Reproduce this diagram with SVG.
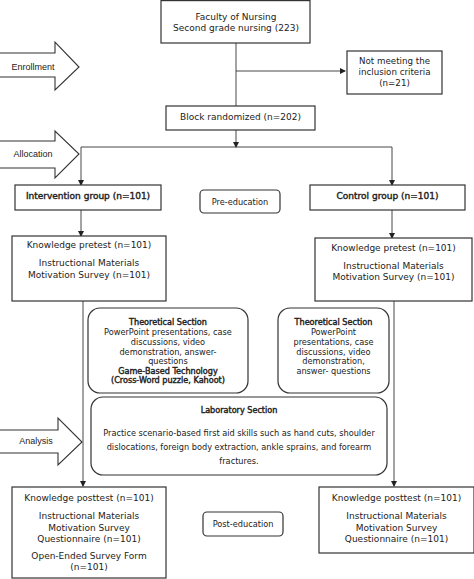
<svg xmlns="http://www.w3.org/2000/svg" width="474" height="579" viewBox="0 0 474 579">
<defs>
<marker id="ah" markerWidth="6" markerHeight="6" refX="5" refY="3" orient="auto" markerUnits="userSpaceOnUse">
<path d="M0,0 L6,3 L0,6 Z" fill="#222"/>
</marker>
<style>
.box{fill:#fff;stroke:#333;stroke-width:1.2}
.t{font-family:"DejaVu Sans",Verdana,sans-serif;font-size:9px;fill:#222;text-anchor:middle}
.s{font-size:8.2px}
.b{font-size:9px;stroke:#222;stroke-width:0.4}
.h{font-size:8.1px;stroke:#222;stroke-width:0.4}
.ar{fill:#fff;stroke:#333;stroke-width:1.1}
.al{font-family:"Liberation Sans",Arial,sans-serif;font-size:9px;fill:#222;text-anchor:middle}
.c{fill:none;stroke:#333;stroke-width:0.9}
</style>
</defs>
<g id="connectors">
<path class="c" d="M236,43 V106"/>
<path class="c" d="M236,71 H345" marker-end="url(#ah)"/>
<path class="c" d="M236,130 V147" marker-end="url(#ah)"/>
<path class="c" d="M81,147 H392"/>
<path class="c" d="M81,147 V185" marker-end="url(#ah)"/>
<path class="c" d="M392,147 V185" marker-end="url(#ah)"/>
<path class="c" d="M81,210 V236" marker-end="url(#ah)"/>
<path class="c" d="M392,210 V238" marker-end="url(#ah)"/>
<path class="c" d="M83,301 V486" marker-end="url(#ah)"/>
<path class="c" d="M394,301 V486" marker-end="url(#ah)"/>
</g>
<g id="enrollment">
<polygon class="ar" points="-1,53 55,53 55,42 79,67 55,90 55,77 -1,77"/>
<text class="al" x="33" y="70">Enrollment</text>
</g>
<g id="allocation">
<polygon class="ar" points="-1,141 55,141 55,131 79,154 55,178 55,168 -1,168"/>
<text class="al" x="33" y="157">Allocation</text>
</g>
<g id="analysis">
<polygon class="ar" points="-1,430 58,430 58,418 82,442 58,465 58,453 -1,453"/>
<text class="al" x="36" y="444">Analysis</text>
</g>
<g id="faculty">
<rect class="box" x="161" y="0.6" width="149" height="42.4"/>
<text class="t" x="236" y="20">Faculty of Nursing</text>
<text class="t" x="236" y="31">Second grade nursing (223)</text>
</g>
<g id="excluded">
<rect class="box" x="347" y="51" width="95" height="43"/>
<text class="t" x="394.5" y="64" style="font-size:8.7px">Not meeting the</text>
<text class="t" x="394.5" y="75" style="font-size:8.7px">inclusion criteria</text>
<text class="t" x="394.5" y="86" style="font-size:8.7px">(n=21)</text>
</g>
<g id="randomized">
<rect class="box" x="166" y="106" width="149" height="24"/>
<text class="t" x="240.5" y="120">Block randomized (n=202)</text>
</g>
<g id="intervention">
<rect class="box" x="15" y="185" width="146" height="25"/>
<text class="t b" x="88" y="199">Intervention group (n=101)</text>
</g>
<g id="pre-education">
<rect class="box" x="200" y="190" width="80" height="23" rx="4"/>
<text class="t s" x="240" y="205">Pre-education</text>
</g>
<g id="control">
<rect class="box" x="310" y="185" width="155" height="25"/>
<text class="t b" x="387.5" y="199">Control group (n=101)</text>
</g>
<g id="pretest-left">
<rect class="box" x="12" y="236" width="154" height="65"/>
<text class="t" x="89" y="248">Knowledge pretest (n=101)</text>
<text class="t" x="89" y="266">Instructional Materials</text>
<text class="t" x="89" y="278">Motivation Survey (n=101)</text>
</g>
<g id="pretest-right">
<rect class="box" x="315" y="238" width="157" height="63"/>
<text class="t" x="393.5" y="251">Knowledge pretest (n=101)</text>
<text class="t" x="393.5" y="269">Instructional Materials</text>
<text class="t" x="393.5" y="280">Motivation Survey (n=101)</text>
</g>
<g id="theory-left">
<rect class="box" x="88" y="308" width="160" height="85" rx="12"/>
<text class="t h" x="168" y="325">Theoretical Section</text>
<text class="t s" x="168" y="335">PowerPoint presentations, case</text>
<text class="t s" x="168" y="345">discussions, video</text>
<text class="t s" x="168" y="355">demonstration, answer-</text>
<text class="t s" x="168" y="364">questions</text>
<text class="t h" x="168" y="374">Game-Based Technology</text>
<text class="t h" x="168" y="383">(Cross-Word puzzle, Kahoot)</text>
</g>
<g id="theory-right">
<rect class="box" x="278" y="308" width="111" height="85" rx="12"/>
<text class="t h" x="333.5" y="325">Theoretical Section</text>
<text class="t s" x="333.5" y="335">PowerPoint</text>
<text class="t s" x="333.5" y="345">presentations, case</text>
<text class="t s" x="333.5" y="355">discussions, video</text>
<text class="t s" x="333.5" y="364">demonstration,</text>
<text class="t s" x="333.5" y="374">answer- questions</text>
</g>
<g id="laboratory">
<rect class="box" x="91" y="397" width="296" height="78" rx="12"/>
<text class="t h" x="239" y="413">Laboratory Section</text>
<text class="t s" x="239" y="436">Practice scenario-based first aid skills such as hand cuts, shoulder</text>
<text class="t s" x="239" y="450">dislocations, foreign body extraction, ankle sprains, and forearm</text>
<text class="t s" x="239" y="464">fractures.</text>
</g>
<g id="posttest-left">
<rect class="box" x="12" y="487" width="154" height="91"/>
<text class="t" x="89" y="501">Knowledge posttest (n=101)</text>
<text class="t" x="89" y="519">Instructional Materials</text>
<text class="t" x="89" y="531">Motivation Survey</text>
<text class="t" x="89" y="542">Questionnaire (n=101)</text>
<text class="t" x="89" y="559">Open-Ended Survey Form</text>
<text class="t" x="89" y="570">(n=101)</text>
</g>
<g id="post-education">
<rect class="box" x="203" y="512" width="80" height="24" rx="4"/>
<text class="t s" x="243" y="527">Post-education</text>
</g>
<g id="posttest-right">
<rect class="box" x="319" y="487" width="155" height="66"/>
<text class="t" x="396.5" y="501">Knowledge posttest (n=101)</text>
<text class="t" x="396.5" y="519">Instructional Materials</text>
<text class="t" x="396.5" y="531">Motivation Survey</text>
<text class="t" x="396.5" y="542">Questionnaire (n=101)</text>
</g>
</svg>
